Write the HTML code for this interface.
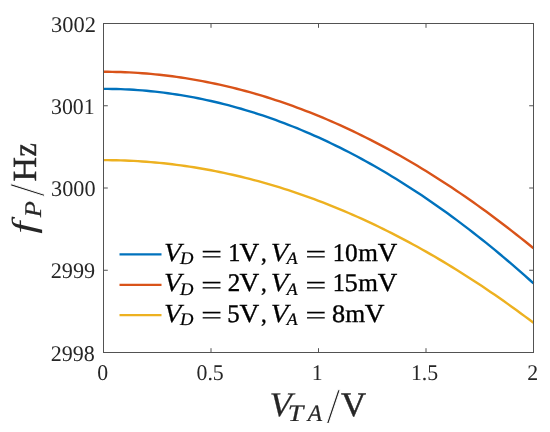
<!DOCTYPE html>
<html><head><meta charset="utf-8"><title>fP vs VTA</title>
<style>html,body{margin:0;padding:0;background:#fff;}svg{display:block;}text{font-family:"Liberation Serif",serif;text-rendering:geometricPrecision;}</style>
</head><body>
<svg width="550" height="432" viewBox="0 0 550 432">
<rect width="550" height="432" fill="#fff"/>
<g fill="none" stroke-width="2.4" stroke-linejoin="round" stroke-linecap="butt">
<polyline stroke="#0072BD" points="103.50,88.85 107.80,88.87 112.10,88.93 116.40,89.02 120.70,89.16 125.00,89.33 129.30,89.55 133.60,89.80 137.90,90.09 142.20,90.42 146.50,90.79 150.80,91.20 155.10,91.65 159.40,92.13 163.70,92.66 168.00,93.22 172.30,93.83 176.60,94.47 180.90,95.15 185.20,95.87 189.50,96.63 193.80,97.43 198.10,98.26 202.40,99.14 206.70,100.05 211.00,101.00 215.30,102.00 219.60,103.03 223.90,104.10 228.20,105.21 232.50,106.35 236.80,107.54 241.10,108.76 245.40,110.03 249.70,111.33 254.00,112.67 258.30,114.06 262.60,115.48 266.90,116.93 271.20,118.43 275.50,119.97 279.80,121.54 284.10,123.16 288.40,124.81 292.70,126.50 297.00,128.23 301.30,130.00 305.60,131.81 309.90,133.66 314.20,135.55 318.50,137.47 322.80,139.44 327.10,141.44 331.40,143.48 335.70,145.57 340.00,147.69 344.30,149.84 348.60,152.04 352.90,154.28 357.20,156.55 361.50,158.87 365.80,161.22 370.10,163.62 374.40,166.05 378.70,168.52 383.00,171.03 387.30,173.57 391.60,176.16 395.90,178.79 400.20,181.45 404.50,184.15 408.80,186.90 413.10,189.68 417.40,192.50 421.70,195.36 426.00,198.26 430.30,201.19 434.60,204.17 438.90,207.18 443.20,210.24 447.50,213.33 451.80,216.46 456.10,219.63 460.40,222.84 464.70,226.09 469.00,229.38 473.30,232.70 477.60,236.07 481.90,239.47 486.20,242.91 490.50,246.40 494.80,249.92 499.10,253.48 503.40,257.07 507.70,260.71 512.00,264.39 516.30,268.10 520.60,271.86 524.90,275.65 529.20,279.48 533.50,283.35"/>
<polyline stroke="#D95319" points="103.50,71.78 107.80,71.80 112.10,71.85 116.40,71.94 120.70,72.06 125.00,72.22 129.30,72.42 133.60,72.65 137.90,72.91 142.20,73.21 146.50,73.55 150.80,73.92 155.10,74.32 159.40,74.76 163.70,75.24 168.00,75.75 172.30,76.30 176.60,76.88 180.90,77.50 185.20,78.15 189.50,78.84 193.80,79.56 198.10,80.32 202.40,81.12 206.70,81.95 211.00,82.81 215.30,83.71 219.60,84.65 223.90,85.62 228.20,86.63 232.50,87.67 236.80,88.74 241.10,89.86 245.40,91.00 249.70,92.19 254.00,93.40 258.30,94.66 262.60,95.94 266.90,97.27 271.20,98.63 275.50,100.02 279.80,101.45 284.10,102.92 288.40,104.42 292.70,105.95 297.00,107.52 301.30,109.13 305.60,110.77 309.90,112.45 314.20,114.16 318.50,115.91 322.80,117.69 327.10,119.51 331.40,121.36 335.70,123.25 340.00,125.17 344.30,127.13 348.60,129.13 352.90,131.16 357.20,133.22 361.50,135.32 365.80,137.46 370.10,139.63 374.40,141.84 378.70,144.08 383.00,146.36 387.30,148.67 391.60,151.02 395.90,153.40 400.20,155.82 404.50,158.27 408.80,160.76 413.10,163.28 417.40,165.84 421.70,168.44 426.00,171.07 430.30,173.73 434.60,176.43 438.90,179.17 443.20,181.94 447.50,184.75 451.80,187.59 456.10,190.47 460.40,193.38 464.70,196.33 469.00,199.31 473.30,202.33 477.60,205.38 481.90,208.47 486.20,211.59 490.50,214.75 494.80,217.95 499.10,221.18 503.40,224.44 507.70,227.74 512.00,231.08 516.30,234.45 520.60,237.86 524.90,241.30 529.20,244.78 533.50,248.29"/>
<polyline stroke="#EDB120" points="103.50,160.12 107.80,160.13 112.10,160.18 116.40,160.26 120.70,160.38 125.00,160.52 129.30,160.70 133.60,160.91 137.90,161.16 142.20,161.44 146.50,161.74 150.80,162.09 155.10,162.46 159.40,162.87 163.70,163.31 168.00,163.78 172.30,164.28 176.60,164.82 180.90,165.39 185.20,165.99 189.50,166.62 193.80,167.29 198.10,167.99 202.40,168.72 206.70,169.49 211.00,170.29 215.30,171.12 219.60,171.98 223.90,172.87 228.20,173.80 232.50,174.76 236.80,175.75 241.10,176.78 245.40,177.83 249.70,178.92 254.00,180.05 258.30,181.20 262.60,182.39 266.90,183.61 271.20,184.86 275.50,186.15 279.80,187.47 284.10,188.82 288.40,190.20 292.70,191.61 297.00,193.06 301.30,194.54 305.60,196.06 309.90,197.60 314.20,199.18 318.50,200.79 322.80,202.43 327.10,204.11 331.40,205.82 335.70,207.56 340.00,209.33 344.30,211.14 348.60,212.98 352.90,214.85 357.20,216.75 361.50,218.69 365.80,220.65 370.10,222.66 374.40,224.69 378.70,226.76 383.00,228.85 387.30,230.99 391.60,233.15 395.90,235.35 400.20,237.57 404.50,239.84 408.80,242.13 413.10,244.46 417.40,246.82 421.70,249.21 426.00,251.63 430.30,254.09 434.60,256.58 438.90,259.10 443.20,261.65 447.50,264.24 451.80,266.86 456.10,269.51 460.40,272.19 464.70,274.91 469.00,277.66 473.30,280.44 477.60,283.26 481.90,286.10 486.20,288.98 490.50,291.90 494.80,294.84 499.10,297.82 503.40,300.83 507.70,303.87 512.00,306.95 516.30,310.05 520.60,313.19 524.90,316.37 529.20,319.57 533.50,322.81"/>
</g>
<g stroke="#525252" stroke-width="1" fill="none">
<rect x="103.5" y="23.5" width="430.0" height="329.0"/>
<path d="M211.0 352.5v-4.3M211.0 23.5v4.3M318.5 352.5v-4.3M318.5 23.5v4.3M426.0 352.5v-4.3M426.0 23.5v4.3M103.5 270.25h4.3M533.5 270.25h-4.3M103.5 188.00h4.3M533.5 188.00h-4.3M103.5 105.75h4.3M533.5 105.75h-4.3"/>
</g>
<g>
<text transform="translate(97.15,380.00) scale(0.9732,1.0000)" font-size="22.40" fill="#262626">0</text>
<text transform="translate(196.49,380.00) scale(0.9732,1.0000)" font-size="22.40" fill="#262626">0.5</text>
<text transform="translate(311.84,380.00) scale(0.9732,1.0000)" font-size="22.40" fill="#262626">1</text>
<text transform="translate(410.94,380.00) scale(0.9732,1.0000)" font-size="22.40" fill="#262626">1.5</text>
<text transform="translate(527.27,380.00) scale(0.9732,1.0000)" font-size="22.40" fill="#262626">2</text>
<text transform="translate(50.73,360.70) scale(0.9846,1.0000)" font-size="22.40" fill="#262626">2998</text>
<text transform="translate(50.72,278.45) scale(0.9931,1.0000)" font-size="22.40" fill="#262626">2999</text>
<text transform="translate(51.03,196.20) scale(0.9936,1.0000)" font-size="22.40" fill="#262626">3000</text>
<text transform="translate(51.05,113.95) scale(0.9745,1.0000)" font-size="22.40" fill="#262626">3001</text>
<text transform="translate(51.02,31.70) scale(1.0025,1.0000)" font-size="22.40" fill="#262626">3002</text>
</g>
<g>
<line x1="119.5" x2="161.5" y1="254.4" y2="254.4" stroke="#0072BD" stroke-width="2.2"/>
<g><text transform="translate(163.93,260.50) scale(1.1272,1.0313)" font-size="25.30" font-style="italic" fill="#000" stroke="#000" stroke-width="0.22" vector-effect="non-scaling-stroke">V</text><text transform="translate(180.01,264.20) scale(1.0588,1.0000)" font-size="17.60" font-style="italic" fill="#000" stroke="#000" stroke-width="0.22" vector-effect="non-scaling-stroke">D</text><text transform="translate(200.98,263.32) scale(1.4858,1.0561)" font-size="25.30" fill="#000" stroke="#000" stroke-width="0.12" vector-effect="non-scaling-stroke">=</text><text transform="translate(228.16,260.50) scale(0.9567,1.0000)" font-size="25.30" fill="#000" stroke="#000" stroke-width="0.38" vector-effect="non-scaling-stroke">1</text><text transform="translate(239.49,260.50) scale(1.0796,1.0265)" font-size="25.30" fill="#000" stroke="#000" stroke-width="0.38" vector-effect="non-scaling-stroke">V</text><text transform="translate(261.02,260.50) scale(0.9072,1.0000)" font-size="25.30" fill="#000" stroke="#000" stroke-width="0.38" vector-effect="non-scaling-stroke">,</text><text transform="translate(270.73,260.50) scale(1.1272,1.0313)" font-size="25.30" font-style="italic" fill="#000" stroke="#000" stroke-width="0.22" vector-effect="non-scaling-stroke">V</text><text transform="translate(286.79,264.20) scale(1.0090,1.0000)" font-size="17.60" font-style="italic" fill="#000" stroke="#000" stroke-width="0.22" vector-effect="non-scaling-stroke">A</text><text transform="translate(305.18,263.32) scale(1.4858,1.0561)" font-size="25.30" fill="#000" stroke="#000" stroke-width="0.12" vector-effect="non-scaling-stroke">=</text><text transform="translate(332.76,260.50) scale(0.9567,1.0000)" font-size="25.30" fill="#000" stroke="#000" stroke-width="0.38" vector-effect="non-scaling-stroke">1</text><text transform="translate(345.03,260.50) scale(0.9993,1.0000)" font-size="25.30" fill="#000" stroke="#000" stroke-width="0.38" vector-effect="non-scaling-stroke">0</text><text transform="translate(358.16,260.50) scale(0.9985,1.0000)" font-size="25.30" fill="#000" stroke="#000" stroke-width="0.38" vector-effect="non-scaling-stroke">m</text><text transform="translate(377.69,260.50) scale(1.0683,1.0265)" font-size="25.30" fill="#000" stroke="#000" stroke-width="0.38" vector-effect="non-scaling-stroke">V</text></g>
<line x1="119.5" x2="161.5" y1="284.9" y2="284.9" stroke="#D95319" stroke-width="2.2"/>
<g><text transform="translate(163.93,291.00) scale(1.1272,1.0313)" font-size="25.30" font-style="italic" fill="#000" stroke="#000" stroke-width="0.22" vector-effect="non-scaling-stroke">V</text><text transform="translate(180.01,294.70) scale(1.0588,1.0000)" font-size="17.60" font-style="italic" fill="#000" stroke="#000" stroke-width="0.22" vector-effect="non-scaling-stroke">D</text><text transform="translate(200.98,293.82) scale(1.4858,1.0561)" font-size="25.30" fill="#000" stroke="#000" stroke-width="0.12" vector-effect="non-scaling-stroke">=</text><text transform="translate(227.69,291.00) scale(0.9876,1.0000)" font-size="25.30" fill="#000" stroke="#000" stroke-width="0.38" vector-effect="non-scaling-stroke">2</text><text transform="translate(239.49,291.00) scale(1.0796,1.0265)" font-size="25.30" fill="#000" stroke="#000" stroke-width="0.38" vector-effect="non-scaling-stroke">V</text><text transform="translate(261.02,291.00) scale(0.9072,1.0000)" font-size="25.30" fill="#000" stroke="#000" stroke-width="0.38" vector-effect="non-scaling-stroke">,</text><text transform="translate(270.73,291.00) scale(1.1272,1.0313)" font-size="25.30" font-style="italic" fill="#000" stroke="#000" stroke-width="0.22" vector-effect="non-scaling-stroke">V</text><text transform="translate(286.79,294.70) scale(1.0090,1.0000)" font-size="17.60" font-style="italic" fill="#000" stroke="#000" stroke-width="0.22" vector-effect="non-scaling-stroke">A</text><text transform="translate(305.18,293.82) scale(1.4858,1.0561)" font-size="25.30" fill="#000" stroke="#000" stroke-width="0.12" vector-effect="non-scaling-stroke">=</text><text transform="translate(332.76,291.00) scale(0.9567,1.0000)" font-size="25.30" fill="#000" stroke="#000" stroke-width="0.38" vector-effect="non-scaling-stroke">1</text><text transform="translate(344.45,291.00) scale(1.0514,1.0000)" font-size="25.30" fill="#000" stroke="#000" stroke-width="0.38" vector-effect="non-scaling-stroke">5</text><text transform="translate(358.16,291.00) scale(0.9985,1.0000)" font-size="25.30" fill="#000" stroke="#000" stroke-width="0.38" vector-effect="non-scaling-stroke">m</text><text transform="translate(377.69,291.00) scale(1.0683,1.0265)" font-size="25.30" fill="#000" stroke="#000" stroke-width="0.38" vector-effect="non-scaling-stroke">V</text></g>
<line x1="119.5" x2="161.5" y1="315.2" y2="315.2" stroke="#EDB120" stroke-width="2.2"/>
<g><text transform="translate(163.93,321.50) scale(1.1272,1.0313)" font-size="25.30" font-style="italic" fill="#000" stroke="#000" stroke-width="0.22" vector-effect="non-scaling-stroke">V</text><text transform="translate(180.01,325.20) scale(1.0588,1.0000)" font-size="17.60" font-style="italic" fill="#000" stroke="#000" stroke-width="0.22" vector-effect="non-scaling-stroke">D</text><text transform="translate(200.98,324.32) scale(1.4858,1.0561)" font-size="25.30" fill="#000" stroke="#000" stroke-width="0.12" vector-effect="non-scaling-stroke">=</text><text transform="translate(227.35,321.50) scale(0.9827,1.0000)" font-size="25.30" fill="#000" stroke="#000" stroke-width="0.38" vector-effect="non-scaling-stroke">5</text><text transform="translate(239.49,321.50) scale(1.0796,1.0265)" font-size="25.30" fill="#000" stroke="#000" stroke-width="0.38" vector-effect="non-scaling-stroke">V</text><text transform="translate(261.02,321.50) scale(0.9072,1.0000)" font-size="25.30" fill="#000" stroke="#000" stroke-width="0.38" vector-effect="non-scaling-stroke">,</text><text transform="translate(270.73,321.50) scale(1.1272,1.0313)" font-size="25.30" font-style="italic" fill="#000" stroke="#000" stroke-width="0.22" vector-effect="non-scaling-stroke">V</text><text transform="translate(286.79,325.20) scale(1.0090,1.0000)" font-size="17.60" font-style="italic" fill="#000" stroke="#000" stroke-width="0.22" vector-effect="non-scaling-stroke">A</text><text transform="translate(305.18,324.32) scale(1.4858,1.0561)" font-size="25.30" fill="#000" stroke="#000" stroke-width="0.12" vector-effect="non-scaling-stroke">=</text><text transform="translate(331.89,321.50) scale(1.0366,1.0000)" font-size="25.30" fill="#000" stroke="#000" stroke-width="0.38" vector-effect="non-scaling-stroke">8</text><text transform="translate(345.15,321.50) scale(1.0092,1.0000)" font-size="25.30" fill="#000" stroke="#000" stroke-width="0.38" vector-effect="non-scaling-stroke">m</text><text transform="translate(364.69,321.50) scale(1.0796,1.0265)" font-size="25.30" fill="#000" stroke="#000" stroke-width="0.38" vector-effect="non-scaling-stroke">V</text></g>
</g>
<g><text transform="translate(269.61,415.60) scale(1.0786,1.0204)" font-size="33.80" font-style="italic" fill="#262626" stroke="#262626" stroke-width="0.22" vector-effect="non-scaling-stroke">V</text><text transform="translate(287.77,420.50) scale(1.1793,1.0000)" font-size="23.60" font-style="italic" fill="#262626" stroke="#262626" stroke-width="0.22" vector-effect="non-scaling-stroke">T</text><text transform="translate(307.70,420.50) scale(0.9931,1.0000)" font-size="23.60" font-style="italic" fill="#262626" stroke="#262626" stroke-width="0.22" vector-effect="non-scaling-stroke">A</text><text transform="translate(326.40,423.20) scale(1.4580,1.4903)" font-size="33.80" fill="#262626" stroke="#fff" stroke-width="0.60" vector-effect="non-scaling-stroke">/</text><text transform="translate(340.93,415.60) scale(1.0304,1.0159)" font-size="33.80" fill="#262626" stroke="#262626" stroke-width="0.42" vector-effect="non-scaling-stroke">V</text></g>
<g><text transform="translate(35.49,233.68) rotate(-90) scale(1.3012,0.9873)" font-size="33.80" font-style="italic" fill="#262626">f</text><text transform="translate(41.00,217.16) rotate(-90) scale(1.1261,1.0150)" font-size="23.60" font-style="italic" fill="#262626" stroke="#262626" stroke-width="0.22" vector-effect="non-scaling-stroke">P</text><text transform="translate(43.60,196.50) rotate(-90) scale(1.3729,1.4903)" font-size="33.80" fill="#262626" stroke="#fff" stroke-width="0.60" vector-effect="non-scaling-stroke">/</text><text transform="translate(35.50,181.47) rotate(-90) scale(1.0016,1.0000)" font-size="33.80" fill="#262626" stroke="#262626" stroke-width="0.42" vector-effect="non-scaling-stroke">H</text><text transform="translate(35.50,156.50) rotate(-90) scale(0.8883,1.0000)" font-size="33.80" fill="#262626" stroke="#262626" stroke-width="0.42" vector-effect="non-scaling-stroke">z</text></g>
</svg>
</body></html>
